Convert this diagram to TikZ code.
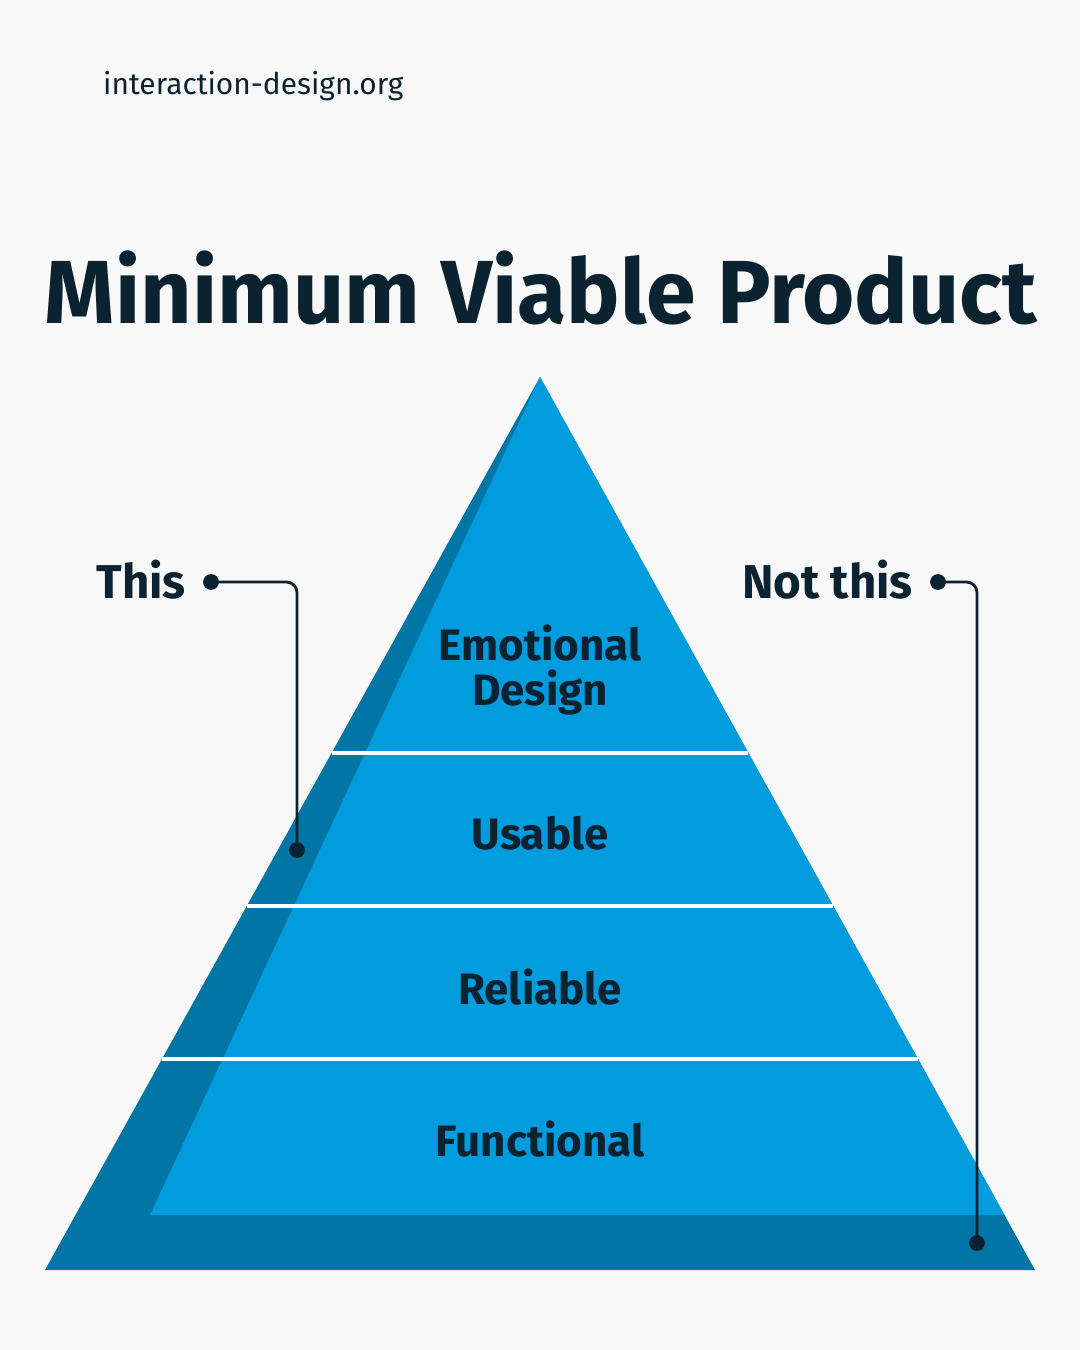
\documentclass[tikz,border=0pt]{standalone}
\usepackage{fontspec}
\setmainfont{Fira Sans}
\definecolor{bgcol}{HTML}{F8F8F8}
\definecolor{lightblue}{HTML}{009CDD}
\definecolor{darkblue}{HTML}{0075A6}
\definecolor{inkcol}{HTML}{0B2230}
\tikzset{
  layer/.style={font=\fontsize{25}{30}\selectfont\bfseries, text=inkcol, align=center},
  side/.style={font=\fontsize{27}{32}\selectfont\bfseries, text=inkcol},
  pin/.style={draw=inkcol, line width=1.6pt, rounded corners=6pt},
  dot/.style={circle, fill=inkcol, inner sep=0pt, minimum size=9pt}
}
\begin{document}
\begin{tikzpicture}[x=0.02cm, y=-0.02cm]
\fill[bgcol] (0,0) rectangle (1080,1350);
\useasboundingbox (0,0) rectangle (1080,1350);
\coordinate (apex) at (540,377);
\coordinate (BL) at (45,1270);
\coordinate (BR) at (1035,1270);

\fill[darkblue] (apex)--(BL)--(BR)--cycle; % shadow
\fill[lightblue] (apex)--(150,1215)--(1004.5,1215)--cycle; % face

% separators
\foreach \yy in {753,906,1059}
  \draw[white, line width=2pt] ({540-0.5543*(\yy-377)},\yy) -- ({540+0.5543*(\yy-377)},\yy);

\node[layer] (emo) at (540,670) {Emotional\\[-4pt]Design};
\node[layer] (usa) at (540,833) {Usable};
\node[layer] (rel) at (540,987) {Reliable};
\node[layer] (fun) at (540,1139) {Functional};

\node[font=\fontsize{17}{20}\selectfont, text=inkcol, anchor=west] (site) at (97,86) {interaction-design.org};
\node[font=\fontsize{51}{60}\selectfont\bfseries, text=inkcol] (title) at (541,288) {Minimum Viable Product};

\node[side, anchor=east] (this) at (192,580) {This};
\node[side, anchor=east] (notthis) at (919,580) {Not this};
\node[dot] (d1) at (211,582) {};
\node[dot] (d2) at (297,850) {};
\node[dot] (d3) at (938,582) {};
\node[dot] (d4) at (977,1243) {};
\draw[pin] (d1.center) -| (d2.center);
\draw[pin] (d3.center) -| (d4.center);
\end{tikzpicture}
\end{document}
